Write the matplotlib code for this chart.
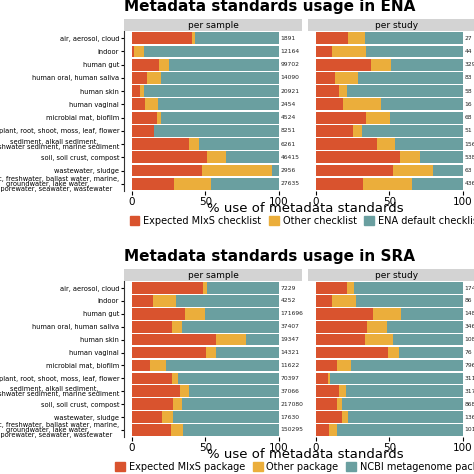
import numpy as np
import matplotlib.pyplot as plt

categories = ["air, aerosol, cloud", "indoor", "human gut", "human oral, human saliva",
              "human skin", "human vaginal", "microbial mat, biofilm",
              "plant, root, shoot, moss, leaf, flower",
              "sediment, alkali sediment,\nfreshwater sediment, marine sediment",
              "soil, soil crust, compost", "wastewater, sludge",
              "aquatic, freshwater, ballast water, marine,\ngroundwater, lake water,\nrock porewater, seawater, wastewater"]

# cumulative percentages: expected standard, expected + other
ena_sample_exp = [40.6, 1.6, 18.7, 10.2, 5.2, 9.0, 16.7, 15.0, 39.0, 51.0, 47.9, 28.4]
ena_sample_oth = [43.0, 7.9, 25.0, 20.0, 8.1, 18.0, 20.0, 15.0, 45.8, 64.0, 95.0, 54.0]
ena_sample_n = [1891, 12164, 99702, 14090, 20921, 2454, 4524, 8251, 6261, 46415, 2956, 27635]
ena_study_exp = [22.0, 11.0, 37.3, 13.0, 15.4, 18.6, 33.7, 25.3, 41.2, 57.0, 52.5, 32.1]
ena_study_oth = [33.3, 34.0, 51.0, 28.7, 20.8, 43.9, 50.2, 31.0, 54.0, 70.8, 79.6, 65.6]
ena_study_n = [27, 44, 329, 83, 58, 16, 68, 51, 156, 538, 63, 436]

sra_sample_exp = [48.5, 14.4, 35.9, 26.9, 57.1, 50.3, 12.2, 27.3, 32.7, 28.2, 20.1, 26.6]
sra_sample_oth = [51.2, 30.0, 49.4, 33.9, 77.4, 57.1, 23.0, 31.2, 38.8, 33.9, 27.8, 34.5]
sra_sample_n = [7229, 4252, 171696, 37407, 19347, 14321, 11622, 70397, 37066, 217080, 17630, 150295]
sra_study_exp = [21.3, 10.6, 38.9, 34.4, 33.5, 49.1, 14.5, 7.9, 15.8, 14.5, 17.6, 8.8]
sra_study_oth = [25.8, 26.9, 58.1, 48.0, 52.7, 56.3, 23.8, 9.5, 20.1, 17.6, 21.9, 14.5]
sra_study_n = [174, 86, 148, 346, 108, 76, 796, 311, 317, 868, 136, 101]

RED, ORANGE, TEAL = "#D9532E", "#EBAE3B", "#6A9FA0"

fig = plt.figure(figsize=(4.74, 4.74), dpi=100)


def panel(rect, exp, oth, n, strip, first):
    ax = fig.add_axes(rect)
    ax.patch.set_alpha(0)
    y = np.arange(len(categories))
    exp = np.array(exp); oth = np.array(oth)
    ax.barh(y, exp, height=0.9, color=RED)
    ax.barh(y, oth - exp, left=exp, height=0.9, color=ORANGE)
    ax.barh(y, 100 - oth, left=oth, height=0.9, color=TEAL)
    for yi, v in zip(y, n):
        ax.text(101, yi, str(v), fontsize=4.3, va="center", ha="left", color="#222222")
    ax.set_xlim(-5.4, 115.6)
    ax.set_ylim(len(categories) - 0.45, -0.55)
    ax.set_xticks([0, 50, 100])
    ax.set_xticklabels(["0", "50", "100"])
    ax.tick_params(axis="x", labelsize=7.5, length=3, pad=1, labelbottom=True)
    for s in ["top", "right", "bottom"]:
        ax.spines[s].set_visible(False)
    if first:
        ax.set_yticks(y)
        ax.set_yticklabels(categories, fontsize=4.8, multialignment="center", linespacing=0.85)
        ax.tick_params(axis="y", length=2.5, pad=1)
        ax.spines["left"].set_color("#333333")
    else:
        ax.set_yticks([])
        ax.spines["left"].set_visible(False)
    # facet strip
    sax = fig.add_axes([rect[0], rect[1] + rect[3], rect[2], 12 / 474])
    sax.set_facecolor("#D3D3D3")
    sax.set_xticks([]); sax.set_yticks([])
    for s in sax.spines.values():
        s.set_visible(False)
    sax.text(0.5, 0.45, strip, transform=sax.transAxes, ha="center", va="center", fontsize=6.5)
    return ax


w = 178 / 474
for top_px, bot_px, title, data, legend_names in [
    (31, 191, "Metadata standards usage in ENA",
     [(ena_sample_exp, ena_sample_oth, ena_sample_n), (ena_study_exp, ena_study_oth, ena_study_n)],
     ["Expected MIxS checklist", "Other checklist", "ENA default checklist"]),
    (281, 437, "Metadata standards usage in SRA",
     [(sra_sample_exp, sra_sample_oth, sra_sample_n), (sra_study_exp, sra_study_oth, sra_study_n)],
     ["Expected MIxS package", "Other package", "NCBI metagenome package"]),
]:
    b = (474 - bot_px) / 474
    h = (bot_px - top_px) / 474
    panel([124 / 474, b, w, h], *data[0], "per sample", True)
    panel([308 / 474, b, w, h], *data[1], "per study", False)
    fig.text(124 / 474, 1 - (top_px - 24) / 474, title, fontsize=11, fontweight="bold",
             ha="left", va="center")
    fig.text(0.645, 1 - (bot_px + 17) / 474, "% use of metadata standards", fontsize=9.5,
             ha="center", va="center")
    handles = [plt.Rectangle((0, 0), 1, 1, color=c) for c in (RED, ORANGE, TEAL)]
    fig.legend(handles, legend_names, loc="center", ncol=3, frameon=False, fontsize=7,
               bbox_to_anchor=(0.645, 1 - (bot_px + 30) / 474), handlelength=1.0,
               handleheight=1.0, handletextpad=0.4, columnspacing=0.8)

fig.savefig("out.png", dpi=100)
